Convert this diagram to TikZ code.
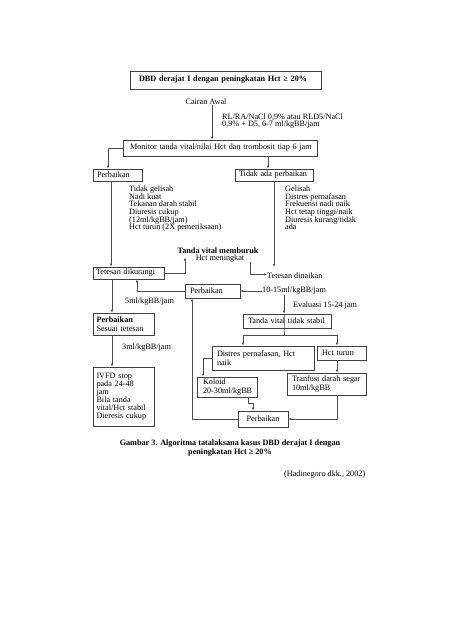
\documentclass[tikz,border=0pt]{standalone}
\usepackage{fontspec}
\setmainfont{Liberation Serif}
\usetikzlibrary{arrows.meta,calc}
\newcommand\myfs[2]{\fontsize{#1}{#2}\selectfont\lineskiplimit=-6pt\relax}
\begin{document}
\begin{tikzpicture}[x=1pt,y=-1pt,
  every node/.style={font=\myfs{8.2}{7.6}, inner sep=0pt, text=black},
  box/.style={draw=black!75, line width=0.6pt, align=left, anchor=center},
  cbox/.style={draw=black!75, line width=0.6pt, align=center, anchor=center},
  ln/.style={draw=black!70, line width=0.6pt},
  arr/.style={ln, -{Latex[length=3pt,width=2.4pt]}},
  txt/.style={align=left, anchor=north west}]
\useasboundingbox[fill=white] (0,0) rectangle (474,632);

% boxes
\node[box, text width=173pt, inner xsep=9pt, minimum height=18pt, font=\myfs{8.2}{8}\bfseries] (title) at (225.5,80) {\mbox{DBD derajat I dengan peningkatan Hct ≥ 20\%}};
\node[box, text width=180pt, inner xsep=7pt, minimum height=16pt] (monitor) at (220,148) {\mbox{Monitor tanda vital/nilai Hct dan trombosit tiap 6 jam}};
\node[box, text width=41pt, inner xsep=4pt, minimum height=12pt] (perb1) at (117.5,175) {\mbox{Perbaikan}};
\node[box, text width=70pt, inner xsep=4pt, minimum height=12pt] (tidak) at (274,175) {\mbox{Tidak ada perbaikan}};
\node[box, text width=65pt, inner xsep=3pt, minimum height=12pt] (tetdk) at (128.5,273) {\mbox{Tetesan dikurangi}};
\node[box, text width=45pt, inner xsep=5pt, minimum height=14pt] (perb2) at (212.5,291) {\mbox{Perbaikan}};
\node[box, text width=54pt, inner xsep=3.5pt, minimum height=22pt, font=\myfs{8.2}{8.4}] (perbB) at (123.5,324) {\mbox{\bfseries Perbaikan}\\\mbox{Sesuai tetesan}};
\node[box, text width=54pt, inner xsep=3.5pt, minimum height=59pt, font=\myfs{8.2}{8}] (ivfd) at (123.5,396.5) {\mbox{IVFD stop}\\\mbox{pada 24-48}\\\mbox{jam}\\\mbox{Bila tanda}\\\mbox{vital/Hct stabil}\\\mbox{Dieresis cukup}};
\node[box, text width=78pt, inner xsep=5pt, minimum height=14pt] (tvts) at (287,321) {\mbox{Tanda vital tidak stabil}};
\node[box, text width=92pt, inner xsep=5pt, minimum height=24pt, font=\myfs{8.2}{8.6}] (distres) at (263,358) {\mbox{Distres pernafasan, Hct}\\\mbox{naik}};
\node[box, text width=39pt, inner xsep=5pt, minimum height=14pt] (hctturun) at (341.5,353) {\mbox{Hct turun}};
\node[box, text width=48pt, inner xsep=6pt, minimum height=20pt, font=\myfs{8.2}{8.6}] (koloid) at (227,387) {\mbox{Koloid}\\\mbox{20-30ml/kgBB}};
\node[box, text width=69pt, inner xsep=5pt, minimum height=22pt, font=\myfs{8.2}{8.8}] (tranfusi) at (326.5,384) {\mbox{Tranfusi darah segar}\\\mbox{10ml/kgBB}};
\node[cbox, minimum width=50pt, minimum height=16pt] (perb3) at (263,419) {Perbaikan};

% plain texts
\node (cairan) at (206,102) {Cairan Awal};
\node[txt, font=\myfs{8.2}{7.2}] (rl) at (222,113.9) {RL/RA/NaCl 0,9\% atau RLD5/NaCl\\0,9\% + D5, 6-7 ml/kgBB/jam};
\node[txt] (leftlist) at (129,185.9) {Tidak gelisah\\Nadi kuat\\Tekanan darah stabil\\Diuresis cukup\\(12ml/kgBB/jam)\\Hct turun (2X pemeriksaan)};
\node[txt] (rightlist) at (285,185.9) {Gelisah\\Distres pernafasan\\Frekuensi nadi naik\\Hct tetap tinggi/naik\\Diuresis kurang/tidak\\ada};
\node[font=\myfs{8.2}{8}\bfseries] (memburuk) at (218,251) {Tanda vital memburuk};
\node (hctm) at (220,259) {Hct meningkat};
\node[anchor=west] (dinaikan) at (267,276) {Tetesan dinaikan};
\node[anchor=west] (rate) at (262,291) {10-15ml/kgBB/jam};
\node[anchor=west] (fiveml) at (125,302) {5ml/kgBB/jam};
\node[anchor=west] (threeml) at (122,348) {3ml/kgBB/jam};
\node[anchor=west] (evaluasi) at (293,306) {Evaluasi 15-24 jam};
\node[align=center, font=\myfs{8.2}{9}\bfseries] (caption) at (230,448.5) {Gambar 3. Algoritma tatalaksana kasus DBD derajat I dengan\\peningkatan Hct ≥ 20\%};
\node[anchor=west] (hadi) at (284,475) {(Hadinegoro dkk., 2002)};

% free-end coordinates
\coordinate (dinTip) at (274,267);
\coordinate (memTip) at (185,257.5);
\coordinate (hctStart) at (250,262);

% connectors
\draw[arr] ([xshift=6pt]cairan.south) -- ([xshift=6pt]cairan.south |- monitor.north);
\draw[arr] (monitor.west) -| ([xshift=-9.5pt]perb1.north);
\draw[arr] ([xshift=-6pt]tidak.north |- monitor.south) -- ([xshift=-6pt]tidak.north);
\draw[arr] ([xshift=-6.5pt]perb1.south) -- ([xshift=-6.5pt]perb1.south |- tetdk.north);
\draw[arr] (tidak.south) -- (dinTip);
\draw[arr] (tetdk.east) -| (memTip);
\draw[arr] (hctStart) |- ([yshift=1.5pt]dinaikan.west);
\draw[arr] (rate.west) -- (perb2.east);
\draw[arr] (perb2.west) -| ([xshift=8.5pt]tetdk.south);
\draw[arr] ([xshift=-16.5pt]tetdk.south) -- ([xshift=-16.5pt]tetdk.south |- perbB.north);
\draw[arr] ([xshift=-11.5pt]perbB.south) -- ([xshift=-11.5pt]perbB.south |- ivfd.north);
\draw[arr] ([xshift=-3pt]rate.south -| tvts.north) -- ([xshift=-3pt]tvts.north);
\draw[ln] ([xshift=-3pt]tvts.north) -- ([xshift=-3pt]tvts.south) -- ++(0,7) coordinate (br);
\draw[arr] (br) -| ([xshift=-20pt]distres.north);
\draw[arr] (br) -| ([xshift=-4.5pt]hctturun.north);
\draw[arr] (distres.west) -| ([xshift=-24pt]koloid.north);
\draw[arr] ([xshift=-4.5pt]hctturun.south) -- ([xshift=-4.5pt]hctturun.south |- tranfusi.north);
\draw[arr] ([xshift=21pt]koloid.south) -- ++(0,6) -| ([xshift=-10pt]perb3.north);
\draw[arr] ([xshift=10.5pt]tranfusi.south) |- (perb3.east);
\draw[arr] (perb3.west) -| ([xshift=-20.5pt]perb2.south);
\end{tikzpicture}
\end{document}
